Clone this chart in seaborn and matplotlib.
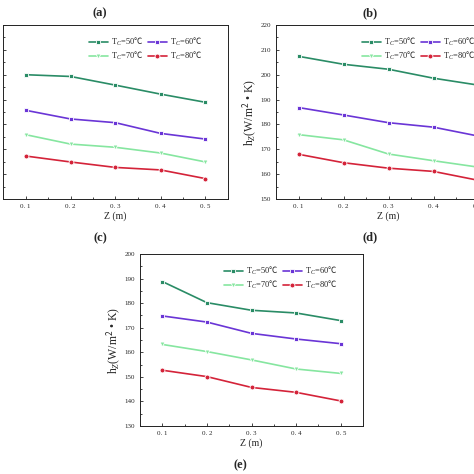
import numpy as np
import pandas as pd
import matplotlib
matplotlib.use("Agg")
import matplotlib.pyplot as plt
import seaborn as sns
from matplotlib.ticker import MultipleLocator

sns.set_style("ticks")
plt.rcParams['font.family'] = ['Liberation Serif', 'Noto Sans CJK SC', 'DejaVu Sans']
plt.rcParams['mathtext.fontset'] = 'custom'
plt.rcParams['mathtext.rm'] = 'Noto Sans CJK SC'
plt.rcParams['mathtext.it'] = 'Liberation Serif:italic'
plt.rcParams['mathtext.bf'] = 'Liberation Serif:bold'

z = [0.1, 0.2, 0.3, 0.4, 0.5]
labels = [r'T$_C$=50$\mathrm{℃}$', r'T$_C$=60$\mathrm{℃}$',
          r'T$_C$=70$\mathrm{℃}$', r'T$_C$=80$\mathrm{℃}$']
colors = ['#2a8c66', '#6a35d6', '#86e6a0', '#d42339']
markers = ['s', 's', 'v', 'o']

# panel (a) - y labels are cut off in the source, scale guessed
a_50 = [200.0, 199.3, 195.8, 192.2, 188.9]
a_60 = [185.7, 182.2, 180.7, 176.4, 174.1]
a_70 = [175.9, 172.1, 170.8, 168.5, 164.9]
a_80 = [167.3, 164.9, 162.7, 161.7, 158.2]

# panel (b)
b_50 = [207.4, 204.2, 202.2, 198.6, 195.8]
b_60 = [186.8, 183.8, 180.7, 178.9, 175.3]
b_70 = [175.9, 173.8, 168.1, 165.4, 162.8]
b_80 = [168.0, 164.6, 162.4, 161.1, 157.5]

# panel (e)
e_50 = [188.8, 180.2, 177.1, 176.0, 172.9]
e_60 = [174.8, 172.3, 167.7, 165.4, 163.5]
e_70 = [163.2, 160.3, 156.9, 153.2, 151.4]
e_80 = [152.7, 150.1, 145.7, 143.7, 140.2]


def make_df(series):
    rows = []
    for lab, vals in zip(labels, series):
        for x, v in zip(z, vals):
            rows.append({'Z': x, 'h': v, 'Tc': lab})
    return pd.DataFrame(rows)


def draw_panel(ax, series, ylim, show_y=True):
    df = make_df(series)
    sns.lineplot(data=df, x='Z', y='h', hue='Tc', style='Tc', palette=colors,
                 markers=markers, dashes=False, linewidth=1.2, markersize=3.5,
                 markeredgewidth=0.6, ax=ax)
    ax.set_xlim(0.05, 0.55)
    ax.set_ylim(*ylim)
    ax.set_xticks(z)
    ax.set_xticklabels(['0. 1', '0. 2', '0. 3', '0. 4', '0. 5'])
    ax.xaxis.set_minor_locator(MultipleLocator(0.05))
    ax.yaxis.set_major_locator(MultipleLocator(10))
    ax.yaxis.set_minor_locator(MultipleLocator(5))
    ax.tick_params(which='both', direction='in', labelsize=5, width=0.6)
    ax.tick_params(which='major', length=2.5)
    ax.tick_params(which='minor', length=1.5)
    for s in ax.spines.values():
        s.set_linewidth(0.7)
        s.set_color('#222222')
    ax.set_xlabel('Z (m)', fontsize=7, labelpad=2)
    if show_y:
        ax.set_ylabel(r'h$_{Z}$(W/m$^2$ • K)', fontsize=8.5, labelpad=1)
    else:
        ax.set_ylabel('')
        ax.tick_params(axis='y', labelleft=False)
    # row-wise order: 50 60 / 70 80
    h, l = ax.get_legend_handles_labels()
    order = [0, 2, 1, 3]
    ax.legend([h[i] for i in order], [l[i] for i in order],
              loc='upper right', bbox_to_anchor=(0.92, 0.98), ncol=2,
              frameon=False, fontsize=6, handlelength=2.3,
              columnspacing=0.5, handletextpad=0.4, labelspacing=0.25)


fig = plt.figure(figsize=(4.74, 4.74), dpi=100)

ax_a = fig.add_axes([3 / 474, 1 - 199 / 474, 225 / 474, 174 / 474])
draw_panel(ax_a, [a_50, a_60, a_70, a_80], (150, 220), show_y=False)

ax_b = fig.add_axes([276 / 474, 1 - 199 / 474, 225 / 474, 174 / 474])
draw_panel(ax_b, [b_50, b_60, b_70, b_80], (150, 220))

ax_e = fig.add_axes([140 / 474, 1 - 426 / 474, 223 / 474, 172 / 474])
draw_panel(ax_e, [e_50, e_60, e_70, e_80], (130, 200))

for txt, x, y in [('(a)', 100, 13), ('(b)', 370, 13), ('(c)', 100, 238),
                  ('(d)', 370, 237), ('(e)', 240, 465)]:
    fig.text(x / 474, 1 - y / 474, txt, ha='center', va='center',
             fontsize=9, fontweight='bold')

fig.savefig('out.png', dpi=100)
